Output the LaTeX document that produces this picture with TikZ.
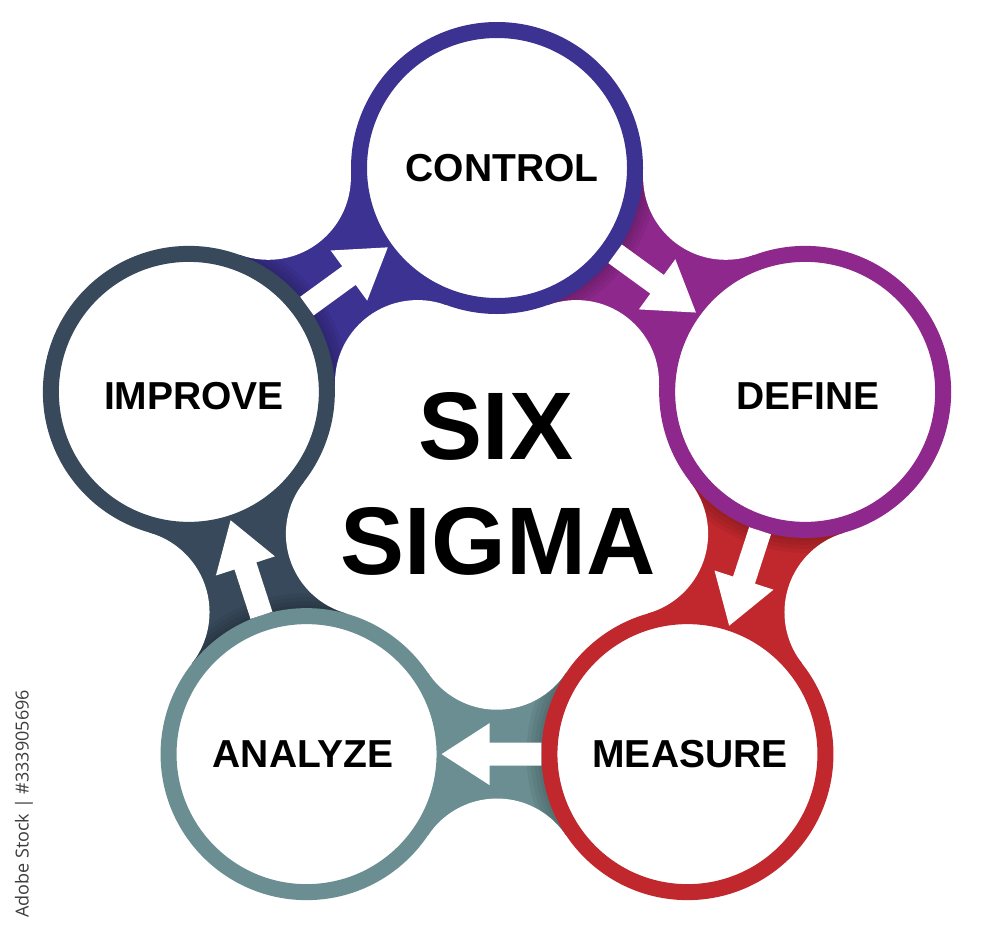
\documentclass[tikz,border=0pt]{standalone}
\usepackage{fontspec}
\setmainfont{Liberation Sans}
\newfontfamily\wmfont{Open Sans}
\usetikzlibrary{calc}
\definecolor{cControl}{RGB}{60,50,146}
\definecolor{cDefine}{RGB}{142,40,140}
\definecolor{cMeasure}{RGB}{192,40,45}
\definecolor{cAnalyze}{RGB}{106,142,145}
\definecolor{cImprove}{RGB}{55,73,90}
\definecolor{wmgray}{RGB}{60,60,60}

\newcommand\linkpiece[3]{%
  \coordinate (lm) at ($(#1)!0.5!(#2)$);
  \coordinate (lq1) at ($(lm)!127pt!90:(#2)$);
  \coordinate (lq2) at ($(lm)!127pt!-90:(#2)$);
  \begin{scope}
    \clip (#1) -- (lq1) -- (#2) -- (lq2) -- cycle;
    \fill[#3] (#1) -- (lq1) -- (#2) -- (lq2) -- cycle;
    \fill[black, opacity=.05] (#1) circle (149);
    \fill[black, opacity=.05] (#1) circle (153);
    \fill[black, opacity=.05] (#1) circle (157);
    \fill[black, opacity=.05] (#1) circle (161);
  \end{scope}
  \fill[white] (lq1) circle (82.6) (lq2) circle (82.6);}

\newcommand\flowarrow[2]{%
  \coordinate (as) at ($(#1)!146pt!(#2)$);
  \coordinate (at) at ($(#2)!135pt!(#1)$);
  \coordinate (ah) at ($(at)!48pt!(as)$);
  \fill[white] (at) -- ($(ah)!31pt!90:(at)$) -- ($(ah)!11.5pt!90:(at)$)
    -- ($(as)!11.5pt!90:(at)$) -- ($(as)!11.5pt!-90:(at)$)
    -- ($(ah)!11.5pt!-90:(at)$) -- ($(ah)!31pt!-90:(at)$) -- cycle;}

\begin{document}
\begin{tikzpicture}[x=1pt,y=-1pt,
  stage/.style={circle, draw=#1, line width=16pt, fill=white,
    minimum size=276pt, inner sep=0pt, outer sep=0pt},
  stagelabel/.style={font=\bfseries\fontsize{39}{39}\selectfont, inner sep=0pt},
  bigtitle/.style={font=\bfseries\fontsize{96}{96}\selectfont, inner sep=0pt},
  wmark/.style={font=\wmfont\fontsize{18}{18}\selectfont, text=wmgray, inner sep=0pt, rotate=90}]
\useasboundingbox (0,0) rectangle (1000,934);
\fill[white] (0,0) rectangle (1000,934);

\coordinate (O) at (497,492);
\coordinate (pC) at ($(O)+(-90:324)$);
\coordinate (pD) at ($(O)+(-18:324)$);
\coordinate (pM) at ($(O)+(54:324)$);
\coordinate (pA) at ($(O)+(126:324)$);
\coordinate (pI) at ($(O)+(198:324)$);

% connectors (colour of target stage)
\linkpiece{pI}{pC}{cControl}
\linkpiece{pC}{pD}{cDefine}
\linkpiece{pD}{pM}{cMeasure}
\linkpiece{pM}{pA}{cAnalyze}
\linkpiece{pA}{pI}{cImprove}

% stage circles
\node[stage=cControl] (control) at (pC) {};
\node[stage=cDefine]  (define)  at (pD) {};
\node[stage=cMeasure] (measure) at (pM) {};
\node[stage=cAnalyze] (analyze) at (pA) {};
\node[stage=cImprove] (improve) at (pI) {};

% arrows
\flowarrow{improve}{control}
\flowarrow{control}{define}
\flowarrow{define}{measure}
\flowarrow{measure}{analyze}
\flowarrow{analyze}{improve}

% labels
\node[stagelabel] (controlText) at (502,168) {CONTROL};
\node[stagelabel] (defineText)  at (808,396) {DEFINE};
\node[stagelabel] (measureText) at (690,754) {MEASURE};
\node[stagelabel] (analyzeText) at (303,754) {ANALYZE};
\node[stagelabel] (improveText) at (194,396) {IMPROVE};

\node[bigtitle] (sixText)   at (496,426) {SIX};
\node[bigtitle] (sigmaText) at (498,541) {SIGMA};

\node[wmark] (watermark) at (24,804) {Adobe Stock | \#333905696};
\end{tikzpicture}
\end{document}
